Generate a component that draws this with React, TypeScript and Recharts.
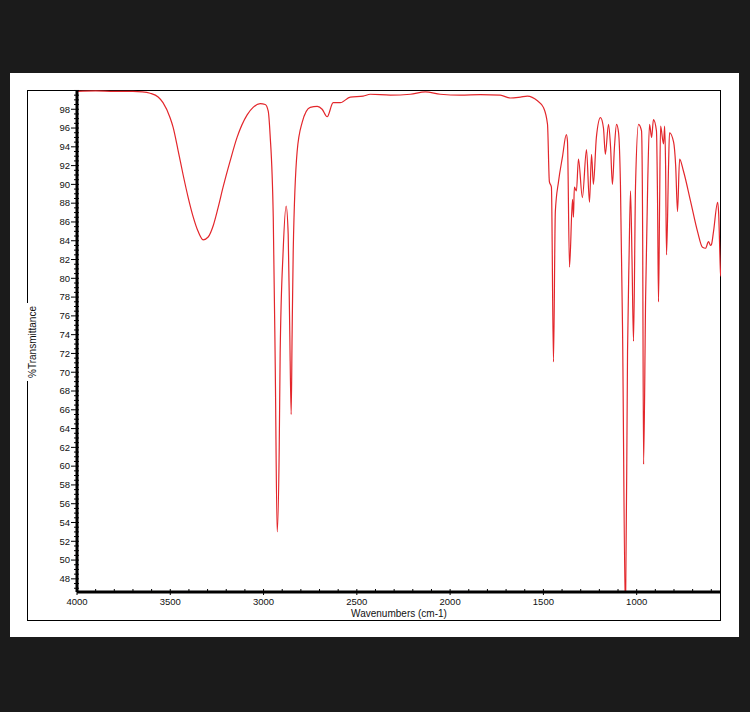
import { LineChart, Line, XAxis, YAxis } from 'recharts'

// IR spectrum, wavenumber (cm-1) descending, % transmittance
const WAVENUMBER = [
  4000, 3900, 3800, 3700, 3650, 3608, 3565, 3539, 3501, 3485,
  3458, 3431, 3404, 3378, 3351, 3324, 3297, 3270, 3244, 3217,
  3179, 3142, 3088, 3056, 3018, 2991, 2975, 2965, 2948, 2937,
  2927, 2916, 2911, 2895, 2879, 2868, 2860, 2852, 2847, 2841,
  2820, 2793, 2750, 2712, 2686, 2659, 2627, 2589, 2535, 2466,
  2428, 2321, 2213, 2133, 2053, 1945, 1838, 1731, 1677, 1623,
  1586, 1532, 1500, 1478, 1468, 1457, 1446, 1436, 1419, 1398,
  1377, 1371, 1360, 1344, 1339, 1334, 1323, 1312, 1291, 1269,
  1253, 1242, 1232, 1216, 1194, 1178, 1168, 1151, 1140, 1130,
  1119, 1108, 1097, 1087, 1076, 1060, 1049, 1041, 1033, 1025,
  1017, 1006, 990, 974, 968, 963, 952, 941, 931, 920,
  910, 894, 888, 883, 877, 872, 856, 850, 845, 840,
  829, 824, 802, 791, 781, 770, 749, 711, 674, 647,
  631, 615, 604, 599, 588, 566, 561, 550, 548,
]

const TRANSMITTANCE = [
  99.9, 99.95, 99.9, 99.9, 99.85, 99.7, 99.3, 98.7, 97.1, 96.1,
  93.6, 91.0, 88.6, 86.6, 85.0, 84.1, 84.4, 85.6, 87.5, 89.7,
  92.5, 95.0, 97.4, 98.2, 98.6, 98.5, 97.8, 95.3, 86.5, 70.0,
  53.0, 62.0, 72.0, 82.9, 87.7, 84.7, 75.0, 65.5, 74.0, 82.9,
  93.5, 96.6, 98.2, 98.3, 98.0, 97.2, 98.7, 98.7, 99.3, 99.4,
  99.6, 99.5, 99.6, 99.85, 99.6, 99.5, 99.55, 99.5, 99.2, 99.3,
  99.4, 98.9, 98.2, 96.4, 90.3, 89.7, 71.1, 87.1, 90.3, 92.9,
  95.3, 94.6, 81.2, 88.4, 86.5, 89.7, 89.3, 92.7, 88.6, 93.7,
  88.1, 93.2, 90.0, 95.0, 97.1, 96.0, 93.2, 96.4, 94.0, 90.0,
  94.0, 96.4, 95.5, 90.0, 75.0, 44.0, 72.2, 82.0, 89.3, 82.0,
  73.3, 90.0, 96.4, 95.7, 85.0, 60.2, 78.0, 90.0, 96.4, 95.0,
  96.9, 95.7, 88.0, 77.5, 88.0, 96.2, 94.3, 96.2, 92.0, 82.5,
  92.1, 95.5, 94.5, 92.0, 87.1, 92.7, 91.4, 88.2, 85.0, 83.3,
  83.2, 83.9, 83.5, 83.6, 85.0, 88.1, 87.1, 80.4, 80.2,
]

const X_LABELS = [4000, 3500, 3000, 2500, 2000, 1500, 1000]
const Y_LABELS = [48, 50, 52, 54, 56, 58, 60, 62, 64, 66, 68, 70, 72, 74, 76, 78, 80, 82, 84, 86, 88, 90, 92, 94, 96, 98]

const data = WAVENUMBER.map((w, i) => ({ w, t: TRANSMITTANCE[i] }))

// minor ticks: every 100 cm-1 on x, every 0.5 % on y
const xTicks: number[] = []
for (let v = 4000; v >= 600; v -= 100) xTicks.push(v)
const yTicks: number[] = []
for (let v = 47; v <= 100; v += 0.5) yTicks.push(v)

const FONT = '"Liberation Sans", Arial, sans-serif'

const XTick = ({ x, y, payload }: any) => {
  const major = X_LABELS.includes(payload.value)
  return (
    <g>
      <line x1={x} x2={x} y1={y - 3} y2={major ? y + 3 : y} stroke="#000" />
      {major && (
        <text x={x} y={y + 13} textAnchor="middle" fontSize={9.5} fontFamily={FONT} fill="#111">
          {payload.value}
        </text>
      )}
    </g>
  )
}

const YTick = ({ x, y, payload }: any) => {
  const major = Y_LABELS.includes(payload.value)
  return (
    <g>
      <line x1={major ? x - 6 : x - 3} x2={x + 2} y1={y} y2={y} stroke="#000" />
      {major && (
        <text x={x - 7} y={y} dy="0.35em" textAnchor="end" fontSize={9.5} fontFamily={FONT} fill="#111">
          {payload.value}
        </text>
      )}
    </g>
  )
}

export default function App() {
  return (
    <div style={{ position: 'absolute', left: 0, top: 0, width: 750, height: 712, background: '#1b1b1b', fontFamily: FONT }}>
      <div style={{ position: 'absolute', left: 10, top: 73, width: 729, height: 564, background: '#fff' }} />
      <div style={{ position: 'absolute', left: 27, top: 90, width: 694, height: 531, border: '1px solid #000', boxSizing: 'border-box' }} />

      <div style={{ position: 'absolute', left: 0, top: 0 }}>
        <LineChart width={750} height={712} data={data} margin={{ top: 90, right: 29, left: 37, bottom: 100 }}>
          <XAxis
            dataKey="w"
            type="number"
            domain={[548, 4000]}
            reversed
            ticks={xTicks}
            interval={0}
            tick={<XTick />}
            tickLine={false}
            tickSize={0}
            tickMargin={0}
            height={20}
            axisLine={{ stroke: '#000', strokeWidth: 3 }}
            allowDataOverflow
          />
          <YAxis
            type="number"
            domain={[46.6, 100.05]}
            ticks={yTicks}
            interval={0}
            tick={<YTick />}
            tickLine={false}
            tickSize={0}
            tickMargin={0}
            width={40}
            axisLine={{ stroke: '#000', strokeWidth: 3 }}
            allowDataOverflow
          />
          <Line
            dataKey="t"
            type="monotone"
            stroke="#e3262b"
            strokeWidth={1.2}
            dot={false}
            isAnimationActive={false}
          />
        </LineChart>
      </div>

      <div
        style={{
          position: 'absolute', left: 77, top: 608, width: 644, height: 12,
          lineHeight: '12px', fontSize: 10, textAlign: 'center', color: '#111',
        }}
      >
        Wavenumbers (cm-1)
      </div>

      <div
        style={{
          position: 'absolute', left: -6, top: 336, width: 78, height: 12,
          lineHeight: '12px', fontSize: 10, textAlign: 'center', color: '#111',
          background: '#fff', transform: 'rotate(-90deg)',
        }}
      >
        %Transmittance
      </div>
    </div>
  )
}
